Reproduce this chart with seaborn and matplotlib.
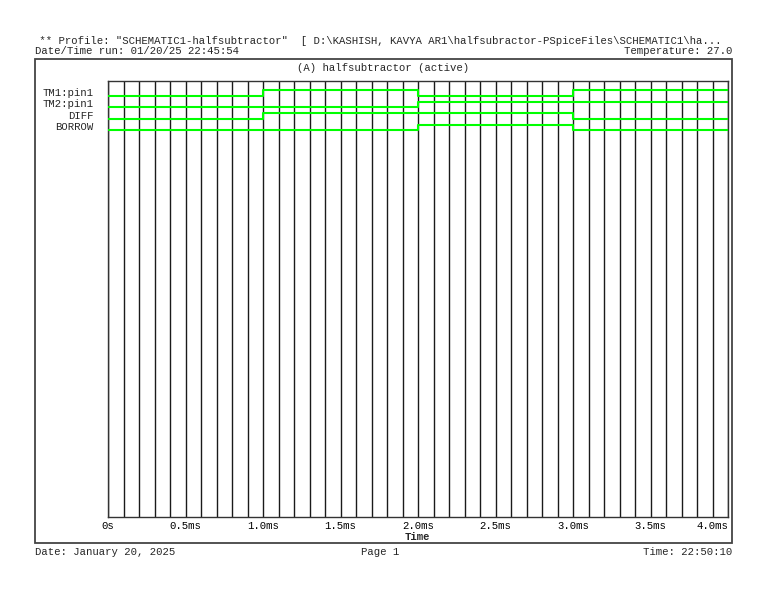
import matplotlib
matplotlib.use("Agg")
import matplotlib.pyplot as plt
import numpy as np
import pandas as pd
import seaborn as sns
from matplotlib.patches import Rectangle

# digital states per 1 ms interval (last value repeated for steps-post)
times_ms = [0.0, 1.0, 2.0, 3.0, 4.0]
signal_names = ["TM1:pin1", "TM2:pin1", "DIFF", "BORROW"]
tm1 = [0, 1, 0, 1, 1]
tm2 = [0, 0, 1, 1, 1]
diff = [0, 1, 1, 0, 0]
borrow = [0, 0, 1, 0, 0]
major_ticks = [0.0, 0.5, 1.0, 1.5, 2.0, 2.5, 3.0, 3.5, 4.0]
tick_labels = ["0s", "0.5ms", "1.0ms", "1.5ms", "2.0ms", "2.5ms", "3.0ms", "3.5ms", "4.0ms"]

header1 = ' ** Profile: "SCHEMATIC1-halfsubtractor"  [ D:\\KASHISH, KAVYA AR1\\halfsubractor-PSpiceFiles\\SCHEMATIC1\\ha...'
header2 = "Date/Time run: 01/20/25 22:45:54"
temp_text = "Temperature: 27.0"
title = "(A) halfsubtractor (active)"
footer_date = "Date: January 20, 2025"
footer_page = "Page 1"
footer_time = "Time: 22:50:10"

sns.set_style("white")
plt.rcParams["font.family"] = ["Liberation Mono", "DejaVu Sans Mono"]
FS = 7.7
W, H = 768, 594

fig = plt.figure(figsize=(W / 100, H / 100), dpi=100)


def fx(px):
    return px / W


def fy(py):
    return 1 - py / H


# outer frame
fig.patches.append(Rectangle((fx(35), fy(543)), fx(732) - fx(35), fy(58.5) - fy(543),
                             transform=fig.transFigure, fill=False, edgecolor="#444444",
                             linewidth=1.3))

ax = fig.add_axes([fx(108), fy(517), fx(728) - fx(108), fy(81) - fy(517)])

# signal rows: low level, high level offset (axis units = pixels from top)
row_pitch, row_low0, amp = 11.5, 14.5, 5.5
rows = []
for i, (name, vals) in enumerate(zip(signal_names, [tm1, tm2, diff, borrow])):
    low = row_low0 + row_pitch * i
    for t, v in zip(times_ms, vals):
        rows.append({"signal": name, "time": t, "level": low - amp * v})
df = pd.DataFrame(rows)

for name, sub in df.groupby("signal", sort=False):
    sns.lineplot(data=sub, x="time", y="level", ax=ax, estimator=None,
                 drawstyle="steps-post", color="#00ff00", linewidth=1.5, zorder=3)
    ax.text(-0.095, sub["level"].iloc[0] - 2.8, name, transform=ax.transData,
            ha="right", va="center", fontsize=FS)

ax.set_xlim(0, 4.0)
ax.set_ylim(436, 0)
ax.set_xticks(major_ticks)
ax.set_xticklabels(tick_labels, fontsize=FS)
ax.set_xticks(np.arange(0, 4.01, 0.1), minor=True)
ax.set_yticks([])
ax.grid(True, which="both", axis="x", color="#1a1a1a", linewidth=1.0)
ax.tick_params(axis="x", which="major", length=3, width=0.8, pad=0, colors="black")
ax.tick_params(axis="x", which="minor", length=1.5, width=0.8)
ax.get_xticklabels()[-1].set_horizontalalignment("right")
for s in ax.spines.values():
    s.set_color("#333333")
    s.set_linewidth(1.0)
ax.set_xlabel("")
ax.set_ylabel("")

fig.text(fx(417), fy(537.5), "Time", ha="center", va="center", fontsize=FS, fontweight="bold")
fig.text(fx(383.5), fy(68), title, ha="center", va="center", fontsize=FS)
fig.text(fx(33), fy(41.5), header1, ha="left", va="center", fontsize=FS)
fig.text(fx(35), fy(50.5), header2, ha="left", va="center", fontsize=FS)
fig.text(fx(732), fy(50.5), temp_text, ha="right", va="center", fontsize=FS)
fig.text(fx(35), fy(552), footer_date, ha="left", va="center", fontsize=FS)
fig.text(fx(380), fy(552), footer_page, ha="center", va="center", fontsize=FS)
fig.text(fx(732), fy(552), footer_time, ha="right", va="center", fontsize=FS)

fig.savefig("out.png", dpi=100)
